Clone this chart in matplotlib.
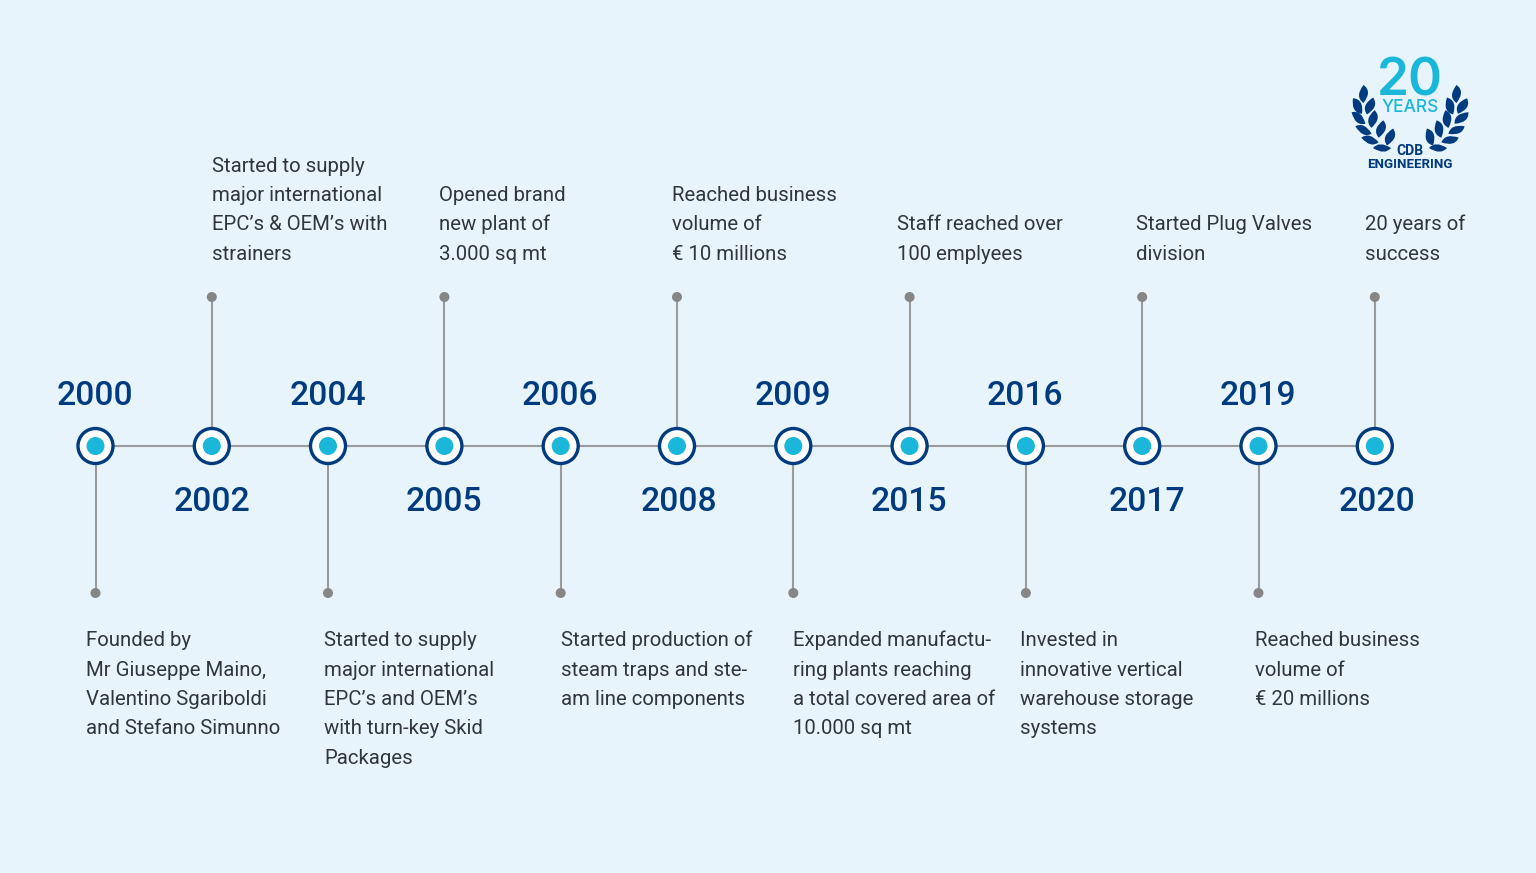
import matplotlib
matplotlib.use('Agg')
import matplotlib.pyplot as plt
from matplotlib.patches import Circle, PathPatch
from matplotlib.path import Path
from matplotlib.transforms import Affine2D

plt.rcParams['font.family'] = ['Roboto', 'DejaVu Sans']

# Timeline content
years = ['2000', '2002', '2004', '2005', '2006', '2008',
         '2009', '2015', '2016', '2017', '2019', '2020']
events = [
    ['Founded by', 'Mr Giuseppe Maino,', 'Valentino Sgariboldi', 'and Stefano Simunno'],
    ['Started to supply', 'major international', 'EPC’s & OEM’s with', 'strainers'],
    ['Started to supply', 'major international', 'EPC’s and OEM’s', 'with turn-key Skid', 'Packages'],
    ['Opened brand', 'new plant of', '3.000 sq mt'],
    ['Started production of', 'steam traps and ste-', 'am line components'],
    ['Reached business', 'volume of', '€ 10 millions'],
    ['Expanded manufactu-', 'ring plants reaching', 'a total covered area of', '10.000 sq mt'],
    ['Staff reached over', '100 emplyees'],
    ['Invested in', 'innovative vertical', 'warehouse storage', 'systems'],
    ['Started Plug Valves', 'division'],
    ['Reached business', 'volume of', '€ 20 millions'],
    ['20 years of', 'success'],
]

# Layout in image pixels
node_x = [95.5, 211.8, 328, 444.4, 560.7, 677, 793.3, 909.6, 1025.9, 1142.2, 1258.5, 1374.8]
year_x = [95, 212, 328, 444, 560, 679, 793, 909, 1025, 1147, 1258, 1377]
text_x = [86, 212, 324, 439, 561, 672, 793, 897, 1020, 1136, 1255, 1365]
axis_y = 446

NAVY = '#003b7f'
CYAN = '#1ab7da'
GREY = '#9b9b9b'
DOT = '#868686'
TEXT = '#30363b'
BG = '#e8f4fb'

fig = plt.figure(figsize=(15.36, 8.73), dpi=100, facecolor=BG)
ax = fig.add_axes([0, 0, 1, 1])
ax.set_xlim(0, 1536)
ax.set_ylim(873, 0)
ax.set_aspect('equal')
ax.axis('off')

ax.plot([node_x[0], node_x[-1]], [axis_y, axis_y], color=GREY, lw=1.5, zorder=1)

for i, (x, year, lines) in enumerate(zip(node_x, years, events)):
    lower = i % 2 == 0
    end_y = 593 if lower else 297
    ax.plot([x, x], [axis_y, end_y], color=GREY, lw=1.5, zorder=1)
    ax.add_patch(Circle((x, end_y), 5, fc=DOT, ec='none', zorder=2))
    ax.add_patch(Circle((x, axis_y), 17.5, fc='white', ec=NAVY, lw=2.4, zorder=3))
    ax.add_patch(Circle((x, axis_y), 9, fc=CYAN, ec='none', zorder=4))

    ax.text(year_x[i], 511 if not lower else 405, year, color=NAVY, fontsize=24.2,
            fontweight='medium', ha='center', va='baseline')

    # lower notes hang from the first line, upper notes sit on the last one
    first = 646 if lower else 260 - 29.5 * (len(lines) - 1)
    for j, line in enumerate(lines):
        ax.text(text_x[i], first + 29.5 * j, line, color=TEXT, fontsize=14.65,
                ha='left', va='baseline')

# 20 years badge
ax.text(1410, 95, '20', color=CYAN, fontsize=37, fontweight='semibold',
        family=['Inter', 'DejaVu Sans'], ha='center', va='baseline')
ax.text(1410, 112, 'YEARS', color=CYAN, fontsize=12.5, fontweight='medium',
        family=['Inter', 'DejaVu Sans'], ha='center', va='baseline')
ax.text(1410, 155, 'CDB', color=NAVY, fontsize=10, fontweight='bold', ha='center', va='baseline')
ax.text(1410, 168, 'ENGINEERING', color=NAVY, fontsize=9.5, fontweight='bold', ha='center', va='baseline')

# left laurel leaves: x offset from badge centre, y, length, width, angle
leaves = [(-46.5, 94, 18, 9, 90), (-52.5, 106, 18, 9, 60), (-40, 106, 18, 9, 110),
          (-51.5, 118, 18, 8.5, 40), (-37, 119, 18, 9, 100), (-46.5, 130, 18, 8, 25),
          (-29, 129, 18, 9, 105), (-40, 140, 18, 8, 15), (-20, 137, 18, 9, 110),
          (-28, 148, 18, 7.5, 0)]


def leaf_patch(cx, cy, length, width, angle):
    # pointed lens shape, long axis along x before rotation
    half = length / 2
    verts = [(-half, 0), (-half * 0.3, -width), (half, 0), (half * 0.3, width), (-half, 0)]
    codes = [Path.MOVETO, Path.CURVE3, Path.CURVE3, Path.CURVE3, Path.CURVE3]
    tr = Affine2D().rotate_deg(angle).translate(cx, cy) + ax.transData
    return PathPatch(Path(verts, codes), fc=NAVY, ec='none', transform=tr)


for dx, y, length, width, angle in leaves:
    ax.add_patch(leaf_patch(1410 + dx, y, length, width, angle))
    ax.add_patch(leaf_patch(1410 - dx, y, length, width, 180 - angle))

fig.savefig('out.png', dpi=100, facecolor=BG)
